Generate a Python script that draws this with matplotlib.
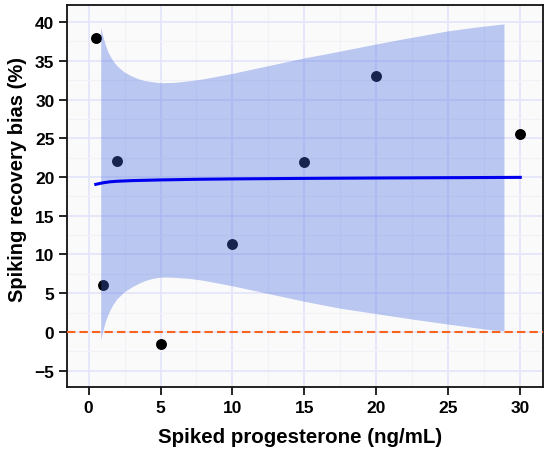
import matplotlib
matplotlib.use("Agg")
import matplotlib.pyplot as plt
from matplotlib.ticker import MultipleLocator
import numpy as np

plt.rcParams['font.family'] = ['Liberation Sans', 'DejaVu Sans']

# Observed data
spike_x = [0.5, 1, 2, 5, 10, 15, 20, 30]
bias_y = [38.0, 6.0, 22.1, -1.5, 11.4, 21.9, 33.1, 25.5]

# Fitted curve
fit_x = [0.5, 0.75, 1, 1.5, 2, 3, 5, 7.5, 10, 15, 20, 25, 30]
fit_y = [19.05, 19.15, 19.25, 19.38, 19.45, 19.53, 19.62, 19.7, 19.75, 19.82, 19.87, 19.91, 19.95]

# Confidence band
hi_x = [0.88, 1.0, 1.2, 1.4, 1.7, 2.0, 2.5, 3.0, 3.5, 4.0, 5.0, 6.0, 7.0, 8.0, 9.0,
        10, 11, 12, 13, 14, 15, 17, 20, 22, 25, 27, 28.9]
band_hi = [39.3, 38.3, 37.0, 36.0, 35.0, 34.3, 33.5, 33.0, 32.6, 32.35, 32.1, 32.15, 32.35, 32.6, 32.95,
           33.3, 33.7, 34.1, 34.5, 34.9, 35.3, 36.0, 37.1, 37.8, 38.8, 39.3, 39.7]
lo_x = [0.88, 0.95, 1.05, 1.2, 1.4, 1.7, 2.0, 2.5, 3.0, 3.5, 4.0, 4.5, 5.0, 5.5, 6.0, 7.0, 8.0,
        10, 12, 15, 17.5, 20, 22.5, 25, 27, 28, 28.9]
band_lo = [-1.1, -0.5, 0.3, 1.3, 2.3, 3.4, 4.2, 5.1, 5.7, 6.2, 6.6, 6.85, 7.0, 7.02, 6.98, 6.85, 6.6,
           5.9, 5.1, 3.9, 3.0, 2.3, 1.6, 0.95, 0.45, 0.2, 0.1]

fig = plt.figure(figsize=(5.5, 4.56), dpi=100)
ax = fig.add_axes([0.1218, 0.1485, 0.866, 0.8383])
ax.set_facecolor('#fafafa')

ax.xaxis.set_major_locator(MultipleLocator(5))
ax.yaxis.set_major_locator(MultipleLocator(5))
ax.xaxis.set_minor_locator(MultipleLocator(2.5))
ax.yaxis.set_minor_locator(MultipleLocator(2.5))
ax.grid(which='major', color='#e4e4fa', linewidth=1.2, zorder=0)
ax.grid(which='minor', color='#f1f1f7', linewidth=0.8, zorder=0)
ax.set_axisbelow(True)

ax.scatter(spike_x, bias_y, s=62, color='black', zorder=2, linewidths=0)
poly_x = list(hi_x) + list(lo_x)[::-1]
poly_y = list(band_hi) + list(band_lo)[::-1]
ax.fill(poly_x, poly_y, color='#4169e1', alpha=0.35, linewidth=0, zorder=3)
ax.plot(fit_x, fit_y, color='#0000ee', linewidth=2.2, zorder=4)
ax.axhline(0, color='#f8641e', linestyle=(0, (4, 2)), linewidth=1.5, zorder=4)

ax.set_xlim(-1.5, 31.6)
ax.set_ylim(-7.15, 42.2)

for sp in ax.spines.values():
    sp.set_linewidth(1.3)
    sp.set_color('#111111')

ax.tick_params(which='major', direction='out', length=6, width=1.2, labelsize=12.5, pad=3)
ax.tick_params(which='minor', length=0)
for lab in ax.get_xticklabels() + ax.get_yticklabels():
    lab.set_fontweight('bold')

ax.set_xlabel('Spiked progesterone (ng/mL)', fontsize=14.8, fontweight='bold')
ax.set_ylabel('Spiking recovery bias (%)', fontsize=14.5, fontweight='bold')
ax.xaxis.set_label_coords(0.489, -0.103)
ax.yaxis.set_label_coords(-0.084, 0.547)

fig.savefig('out.png', dpi=100)
